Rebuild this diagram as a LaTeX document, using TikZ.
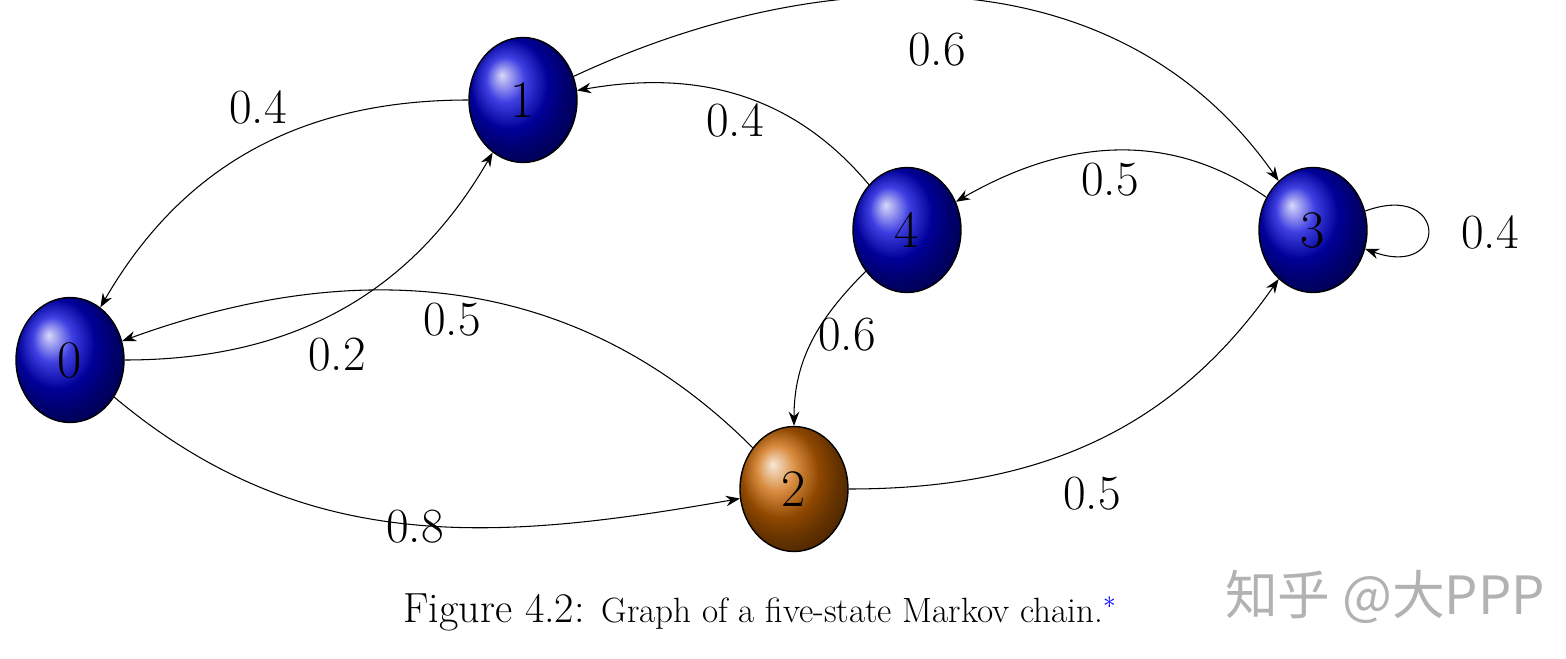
\documentclass[tikz,border=0pt]{standalone}
\usepackage{fontspec}
\newfontfamily\cjk{Noto Sans CJK SC}
\usetikzlibrary{shapes.geometric,arrows.meta,shadings}
\begin{document}
\begin{tikzpicture}[x=0.02cm,y=-0.02cm,
  st/.style={ellipse,minimum width=2.16cm,minimum height=2.5cm,draw=black,thick,ball color=blue!85!black,inner sep=0pt,font=\fontsize{30}{32}\selectfont},
  st2/.style={st,ball color=orange!80!black},
  ed/.style={-{Stealth[length=8pt,width=6pt]},semithick},
  lb/.style={font=\fontsize{28}{30}\selectfont}]
\useasboundingbox (0,0) rectangle (1566,659);
\node[st] (n0) at (70,360) {0};
\node[st] (n1) at (523,100) {1};
\node[st] (n4) at (907,230) {4};
\node[st] (n3) at (1313,230) {3};
\node[st2] (n2) at (794,489) {2};
\draw[ed] (n1) to[out=180,in=60] (n0);
\draw[ed] (n0) to[out=0,in=240] (n1);
\draw[ed] (n1) to[out=25,in=125] (n3);
\draw[ed] (n4) to[out=130,in=10] (n1);
\draw[ed] (n3) to[out=145,in=30] (n4);
\draw[ed] (n3) to[out=20,in=-20,looseness=6] (n3);
\draw[ed] (n4) to[out=225,in=90] (n2);
\draw[ed] (n2) to[out=135,in=20] (n0);
\draw[ed] (n0) to[out=-40,in=190] (n2);
\draw[ed] (n2) to[out=0,in=235] (n3);
\node[lb] (l10) at (258,107) {0.4};
\node[lb] (l01) at (337,355) {0.2};
\node[lb] (l13) at (937,50) {0.6};
\node[lb] (l41) at (735,120) {0.4};
\node[lb] (l34) at (1110,180) {0.5};
\node[lb] (l33) at (1490,232) {0.4};
\node[lb] (l42) at (847,335) {0.6};
\node[lb] (l20) at (452,320) {0.5};
\node[lb] (l02) at (415,527) {0.8};
\node[lb] (l23) at (1092,494) {0.5};
\node (cap) at (760,612) {\fontsize{24}{26}\selectfont Figure 4.2: \fontsize{20}{22}\selectfont Graph of a five-state Markov chain.\textcolor{blue}{$^*$}};
\node[text=gray!60,font=\cjk\fontsize{30}{32}\selectfont] (wm) at (1385,597) {知乎 @大PPP};
\end{tikzpicture}
\end{document}
